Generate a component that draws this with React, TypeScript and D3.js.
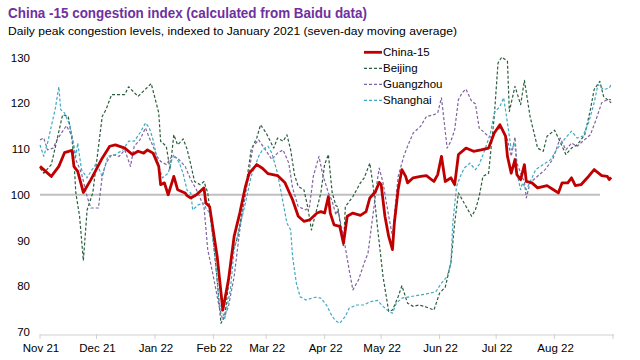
import React from 'react';
import * as d3 from 'd3';

// days counted from 1 Nov 2021
const START = new Date(2021, 10, 1);
const END = new Date(2022, 8, 1);

const yTicks = [70, 80, 90, 100, 110, 120, 130];

const china15: [number, number][] = [
  [0, 106.2], [3, 105.1], [6, 104.0], [10, 106.2], [13, 109.2], [17, 109.7], [18, 106.2], [20, 105.1],
  [23, 100.5], [27, 103.3], [33, 108.0], [37, 110.6], [40, 110.9], [45, 110.2], [49, 108.8], [52, 109.5],
  [55, 109.1], [57, 109.8], [60, 109.1], [63, 106.2], [64, 102.2], [66, 102.6], [68, 100.0], [71, 104.0],
  [73, 101.1], [77, 100.4], [78, 99.8], [80, 99.3], [83, 100.0], [87, 101.5], [88, 98.2], [90, 97.4],
  [94, 86.5], [97, 74.8], [100, 81.4], [103, 90.9], [106, 96.0], [109, 101.8], [111, 104.7], [115, 106.6],
  [118, 105.8], [121, 104.6], [126, 104.2], [130, 102.6], [134, 98.9], [137, 95.3], [140, 94.2], [143, 94.5],
  [147, 96.0], [149, 96.3], [151, 96.0], [153, 99.6], [154, 96.0], [156, 93.4], [159, 93.1], [161, 89.4],
  [163, 95.3], [166, 96.0], [170, 95.5], [173, 96.3], [175, 99.3], [178, 100.7], [180, 102.7], [181, 102.2],
  [183, 95.3], [185, 90.9], [187, 88.0], [188, 93.8], [190, 101.1], [192, 105.5], [194, 104.0], [195, 102.6],
  [198, 103.7], [202, 104.0], [205, 104.2], [209, 102.9], [211, 104.4], [213, 108.4], [215, 102.9], [218, 103.7],
  [220, 102.2], [222, 108.8], [226, 110.2], [230, 109.5], [234, 109.8], [238, 110.2], [241, 113.5], [244, 115.3],
  [247, 112.8], [248, 108.4], [250, 104.7], [252, 107.7], [253, 104.4], [255, 103.3], [257, 106.6], [258, 102.9],
  [261, 102.6], [264, 101.5], [269, 102.0], [272, 101.2], [275, 100.4], [277, 102.6], [280, 102.6], [282, 103.7],
  [284, 102.0], [287, 102.2], [291, 104.0], [294, 105.5], [298, 104.2], [301, 104.0], [302, 103.3], [303, 103.8],
];

const beijing: [number, number][] = [
  [0, 105.8], [2, 104.7], [6, 106.6], [9, 112.0], [12, 117.5], [15, 117.1], [17, 112.0], [18, 107.7],
  [19, 100.4], [21, 95.3], [23, 85.6], [25, 96.7], [28, 100.4], [33, 117.1], [35, 118.6], [38, 121.9],
  [45, 121.9], [47, 123.6], [52, 121.5], [59, 124.3], [63, 117.9], [64, 111.7], [67, 110.6], [69, 105.5],
  [71, 113.1], [73, 110.9], [76, 112.2], [78, 110.0], [80, 106.6], [82, 102.9], [85, 102.2], [87, 102.9],
  [89, 100.4], [91, 93.8], [94, 81.4], [96, 71.9], [98, 73.4], [102, 87.2], [105, 90.9], [109, 101.1],
  [112, 109.8], [115, 112.4], [117, 115.3], [120, 113.5], [124, 110.2], [126, 112.4], [129, 111.7], [131, 113.1],
  [133, 109.8], [135, 104.4], [137, 101.8], [140, 101.1], [142, 97.4], [144, 92.3], [147, 97.1], [149, 100.4],
  [151, 106.6], [153, 108.8], [155, 100.5], [157, 97.6], [158, 97.4], [161, 88.7], [162, 97.4], [166, 99.6],
  [170, 102.6], [172, 103.7], [175, 106.9], [177, 101.1], [179, 93.1], [182, 82.1], [185, 74.5], [187, 74.8],
  [190, 77.7], [192, 80.1], [195, 76.3], [198, 75.6], [201, 75.9], [204, 75.6], [209, 74.8], [212, 78.5],
  [215, 79.8], [218, 85.1], [220, 93.8], [222, 100.4], [225, 98.2], [229, 95.3], [231, 96.7], [233, 99.6],
  [235, 104.0], [238, 104.7], [241, 117.1], [243, 128.8], [245, 130.1], [248, 129.2], [249, 118.2], [252, 123.7],
  [255, 119.7], [257, 125.0], [260, 117.1], [263, 112.0], [264, 110.2], [267, 109.5], [269, 112.8], [273, 114.1],
  [275, 112.4], [279, 108.8], [282, 110.2], [285, 110.9], [289, 113.1], [292, 118.6], [294, 123.0], [297, 124.8],
  [299, 121.5], [301, 120.8], [303, 120.1],
];

const guangzhou: [number, number][] = [
  [0, 112.0], [2, 112.4], [4, 109.8], [7, 110.2], [9, 112.0], [14, 115.1], [17, 112.8], [19, 107.7],
  [22, 104.7], [25, 99.6], [27, 97.1], [31, 97.1], [33, 104.0], [35, 106.9], [38, 108.8], [42, 108.4],
  [45, 109.8], [48, 106.2], [50, 110.6], [53, 112.0], [56, 114.6], [58, 112.4], [60, 110.6], [62, 108.4],
  [64, 107.3], [67, 106.6], [70, 108.4], [73, 108.0], [77, 106.2], [80, 103.3], [83, 101.1], [87, 97.4],
  [89, 88.0], [92, 82.1], [95, 75.6], [97, 72.6], [100, 75.6], [103, 82.1], [106, 92.3], [110, 102.6],
  [113, 110.6], [116, 112.0], [119, 110.2], [123, 107.7], [126, 109.1], [129, 109.8], [132, 106.9], [134, 101.5],
  [137, 97.4], [141, 96.7], [143, 97.4], [145, 104.0], [148, 108.4], [150, 104.4], [153, 100.4], [155, 98.6],
  [157, 95.6], [158, 96.7], [161, 90.9], [164, 83.6], [166, 79.2], [169, 81.4], [172, 85.1], [174, 87.2],
  [177, 96.7], [179, 103.3], [180, 105.8], [182, 102.6], [185, 95.3], [187, 90.9], [190, 104.0], [193, 108.4],
  [195, 110.6], [198, 113.5], [202, 115.0], [205, 117.1], [209, 117.5], [211, 117.9], [213, 121.2], [216, 110.2],
  [218, 111.7], [220, 114.2], [222, 120.8], [224, 122.3], [226, 123.1], [229, 120.4], [231, 119.9], [233, 114.6],
  [237, 113.1], [240, 112.4], [242, 114.2], [245, 114.6], [248, 112.0], [250, 108.4], [252, 112.6], [253, 106.9],
  [256, 103.7], [257, 102.9], [258, 99.3], [260, 102.6], [263, 103.7], [268, 105.5], [272, 107.7], [276, 112.4],
  [279, 109.8], [282, 111.3], [285, 110.6], [288, 111.7], [292, 113.1], [295, 116.4], [298, 120.1], [301, 120.8],
  [303, 120.8],
];

const shanghai: [number, number][] = [
  [0, 110.9], [2, 108.4], [4, 111.3], [6, 115.0], [8, 118.6], [10, 123.6], [11, 118.6], [13, 117.9],
  [16, 115.0], [18, 110.6], [19, 108.4], [20, 111.3], [22, 105.5], [25, 103.7], [27, 105.1], [30, 106.9],
  [33, 104.0], [36, 108.4], [40, 108.8], [44, 109.8], [47, 111.7], [50, 111.7], [53, 113.5], [56, 115.7],
  [58, 114.6], [60, 112.0], [63, 106.2], [65, 103.7], [68, 104.7], [70, 107.7], [71, 108.8], [74, 106.9],
  [76, 104.5], [78, 101.0], [80, 100.4], [81, 96.7], [84, 97.8], [87, 98.2], [88, 97.1], [90, 96.0],
  [93, 85.8], [95, 76.3], [98, 73.0], [101, 79.2], [103, 88.0], [106, 93.1], [109, 98.2], [112, 104.0],
  [116, 108.4], [118, 109.8], [121, 110.6], [123, 109.1], [126, 104.7], [128, 100.4], [131, 93.8], [133, 92.3],
  [134, 86.5], [136, 80.7], [138, 77.7], [141, 77.0], [146, 77.6], [149, 77.4], [152, 75.9], [155, 73.4],
  [157, 72.4], [159, 71.9], [162, 73.4], [164, 75.2], [168, 75.9], [172, 75.9], [175, 76.6], [179, 76.9],
  [182, 75.6], [185, 74.5], [187, 74.1], [189, 76.3], [192, 77.4], [196, 77.7], [202, 78.1], [207, 78.5],
  [210, 78.8], [213, 80.7], [216, 82.1], [218, 85.1], [219, 93.8], [221, 101.8], [223, 104.0], [225, 105.8],
  [228, 106.9], [231, 105.5], [233, 106.6], [236, 109.8], [239, 113.5], [241, 117.9], [244, 119.3], [246, 121.2],
  [248, 115.7], [250, 109.8], [252, 111.3], [253, 104.7], [255, 101.1], [256, 102.6], [258, 101.1], [261, 103.7],
  [263, 105.5], [267, 106.6], [271, 107.7], [274, 109.8], [278, 112.0], [282, 113.9], [285, 112.4], [288, 112.8],
  [291, 115.7], [294, 120.1], [296, 124.1], [299, 123.0], [302, 123.3], [303, 124.1],
];

const series = [
  { name: 'China-15', data: china15, color: '#c00000', width: 2.8, dash: '' },
  { name: 'Beijing', data: beijing, color: '#2b5e3e', width: 1.2, dash: '3 2' },
  { name: 'Guangzhou', data: guangzhou, color: '#8064a2', width: 1.2, dash: '3 2' },
  { name: 'Shanghai', data: shanghai, color: '#3fa9c4', width: 1.2, dash: '3 2' },
];

const W = 640;
const H = 360;
const font = 'Liberation Sans, Arial, sans-serif';

export default function App() {
  const x = d3.scaleTime().domain([START, END]).range([40, 613]);
  const y = d3.scaleLinear().domain([70, 130]).range([332, 57.5]);
  const line = d3
    .line<[number, number]>()
    .x((d) => x(d3.timeDay.offset(START, d[0])))
    .y((d) => y(d[1]));
  const months = d3.timeMonth.range(START, d3.timeDay.offset(END, 1));
  const fmt = d3.timeFormat('%b %y');
  const axisY = 335;

  // draw the headline series last so it stays on top
  const drawOrder = [series[1], series[2], series[3], series[0]];

  return (
    <svg width={W} height={H} style={{ position: 'absolute', left: 0, top: 0, background: '#fff' }} fontFamily={font}>
      <text x={8} y={18} fontSize={14.5} fontWeight="bold" fill="#7030a0" textLength={359} lengthAdjust="spacingAndGlyphs">
        China -15 congestion index (calculated from Baidu data)
      </text>
      <text x={8} y={35} fontSize={11.5} fill="#000" textLength={449} lengthAdjust="spacingAndGlyphs">
        Daily peak congestion levels, indexed to January 2021 (seven-day moving average)
      </text>

      {yTicks.map((t) => (
        <text key={t} x={30} y={y(t) + 4} fontSize={11.5} textAnchor="end" fill="#000">
          {t}
        </text>
      ))}

      <line x1={40} x2={614} y1={axisY} y2={axisY} stroke="#d0d0d0" strokeWidth={1} />
      {months.map((m) => (
        <g key={+m}>
          <line x1={x(m)} x2={x(m)} y1={axisY - 1} y2={axisY + 4} stroke="#d0d0d0" />
          {m < END && (
            <text x={x(m) + 1} y={352} fontSize={11.5} textAnchor="middle" fill="#000">
              {fmt(m)}
            </text>
          )}
        </g>
      ))}

      <line x1={40} x2={600} y1={y(100)} y2={y(100)} stroke="#bfbfbf" strokeWidth={2} />

      {drawOrder.map((s) => (
        <path
          key={s.name}
          d={line(s.data) ?? ''}
          fill="none"
          stroke={s.color}
          strokeWidth={s.width}
          strokeDasharray={s.dash || undefined}
          strokeLinejoin="round"
        />
      ))}

      {series.map((s, i) => {
        const ly = 52.3 + i * 16;
        return (
          <g key={s.name}>
            <line x1={364} x2={382} y1={ly} y2={ly} stroke={s.color} strokeWidth={s.width} strokeDasharray={s.dash || undefined} />
            <text x={383} y={ly + 4} fontSize={11.5} fill="#000">
              {s.name}
            </text>
          </g>
        );
      })}
    </svg>
  );
}
